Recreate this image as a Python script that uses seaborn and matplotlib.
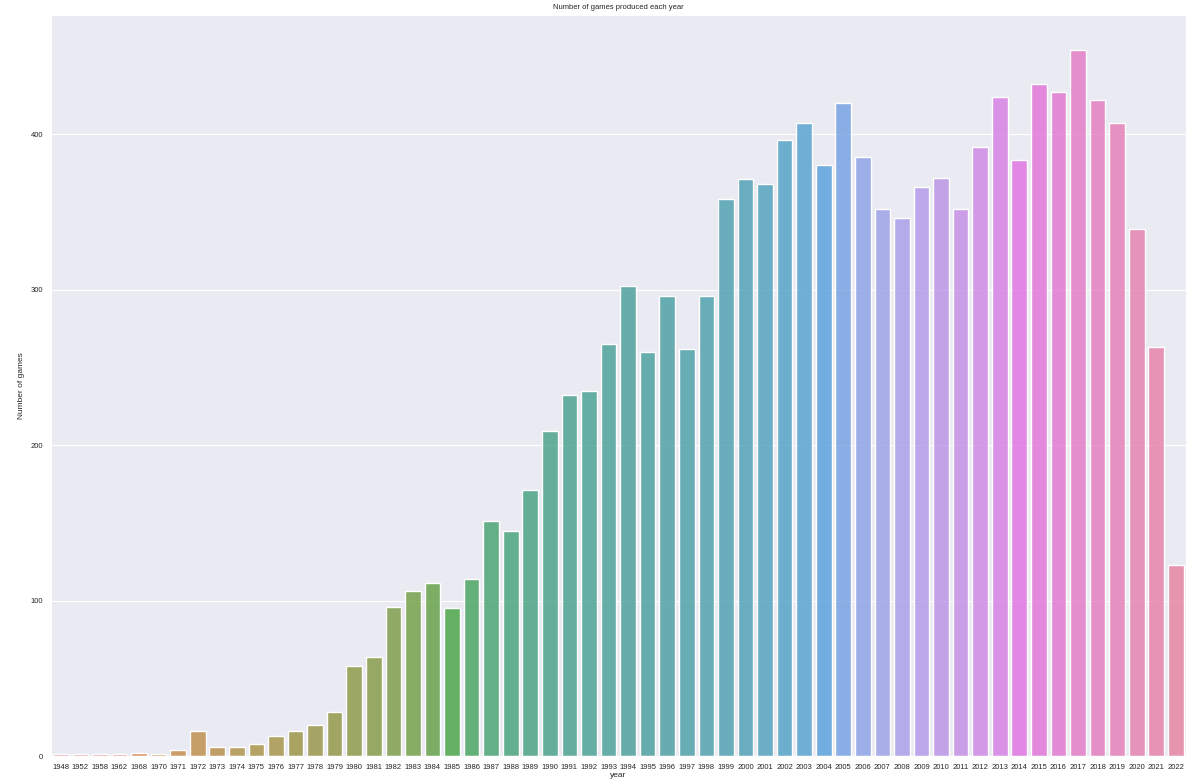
import pandas as pd
import seaborn as sns
import matplotlib.pyplot as plt

# Number of games per year
years = [1948, 1952, 1958, 1962, 1968, 1970] + list(range(1971, 2023))
games = [1, 1, 1, 1, 2, 1,
         4, 16, 6, 6, 8, 13, 16, 20, 28,                      # 1971-1979
         58, 64, 96, 106, 111, 95, 114, 151, 145, 171,          # 1980-1989
         209, 232, 235, 265, 302, 260, 296, 262, 296, 358,      # 1990-1999
         371, 368, 396, 407, 380, 420, 385, 352, 346, 366,      # 2000-2009
         372, 352, 392, 424, 383, 432, 427, 454, 422, 407,      # 2010-2019
         339, 263, 123]                                         # 2020-2022

df = pd.DataFrame({"year": [str(y) for y in years], "count": games})

sns.set_style("darkgrid")
plt.rcParams["font.family"] = ["Liberation Sans", "DejaVu Sans"]

fig, ax = plt.subplots(figsize=(12, 7.79), dpi=100)
sns.barplot(data=df, x="year", y="count", hue="year", palette="husl",
            legend=False, ax=ax)

# slightly washed-out fill, as in the original
for p in ax.patches:
    r, g, b, _ = p.get_facecolor()
    p.set_facecolor((r, g, b, 0.8))

ax.set_title("Number of games produced each year", fontsize=5.5, pad=4)
ax.set_xlabel("year", fontsize=6, labelpad=1)
ax.set_ylabel("Number of games", fontsize=6)
ax.set_yticks([0, 100, 200, 300, 400])
ax.tick_params(axis="both", labelsize=5.5, pad=2)
plt.subplots_adjust(left=0.0425, right=0.988, bottom=0.0295, top=0.981)

fig.savefig("out.png")
